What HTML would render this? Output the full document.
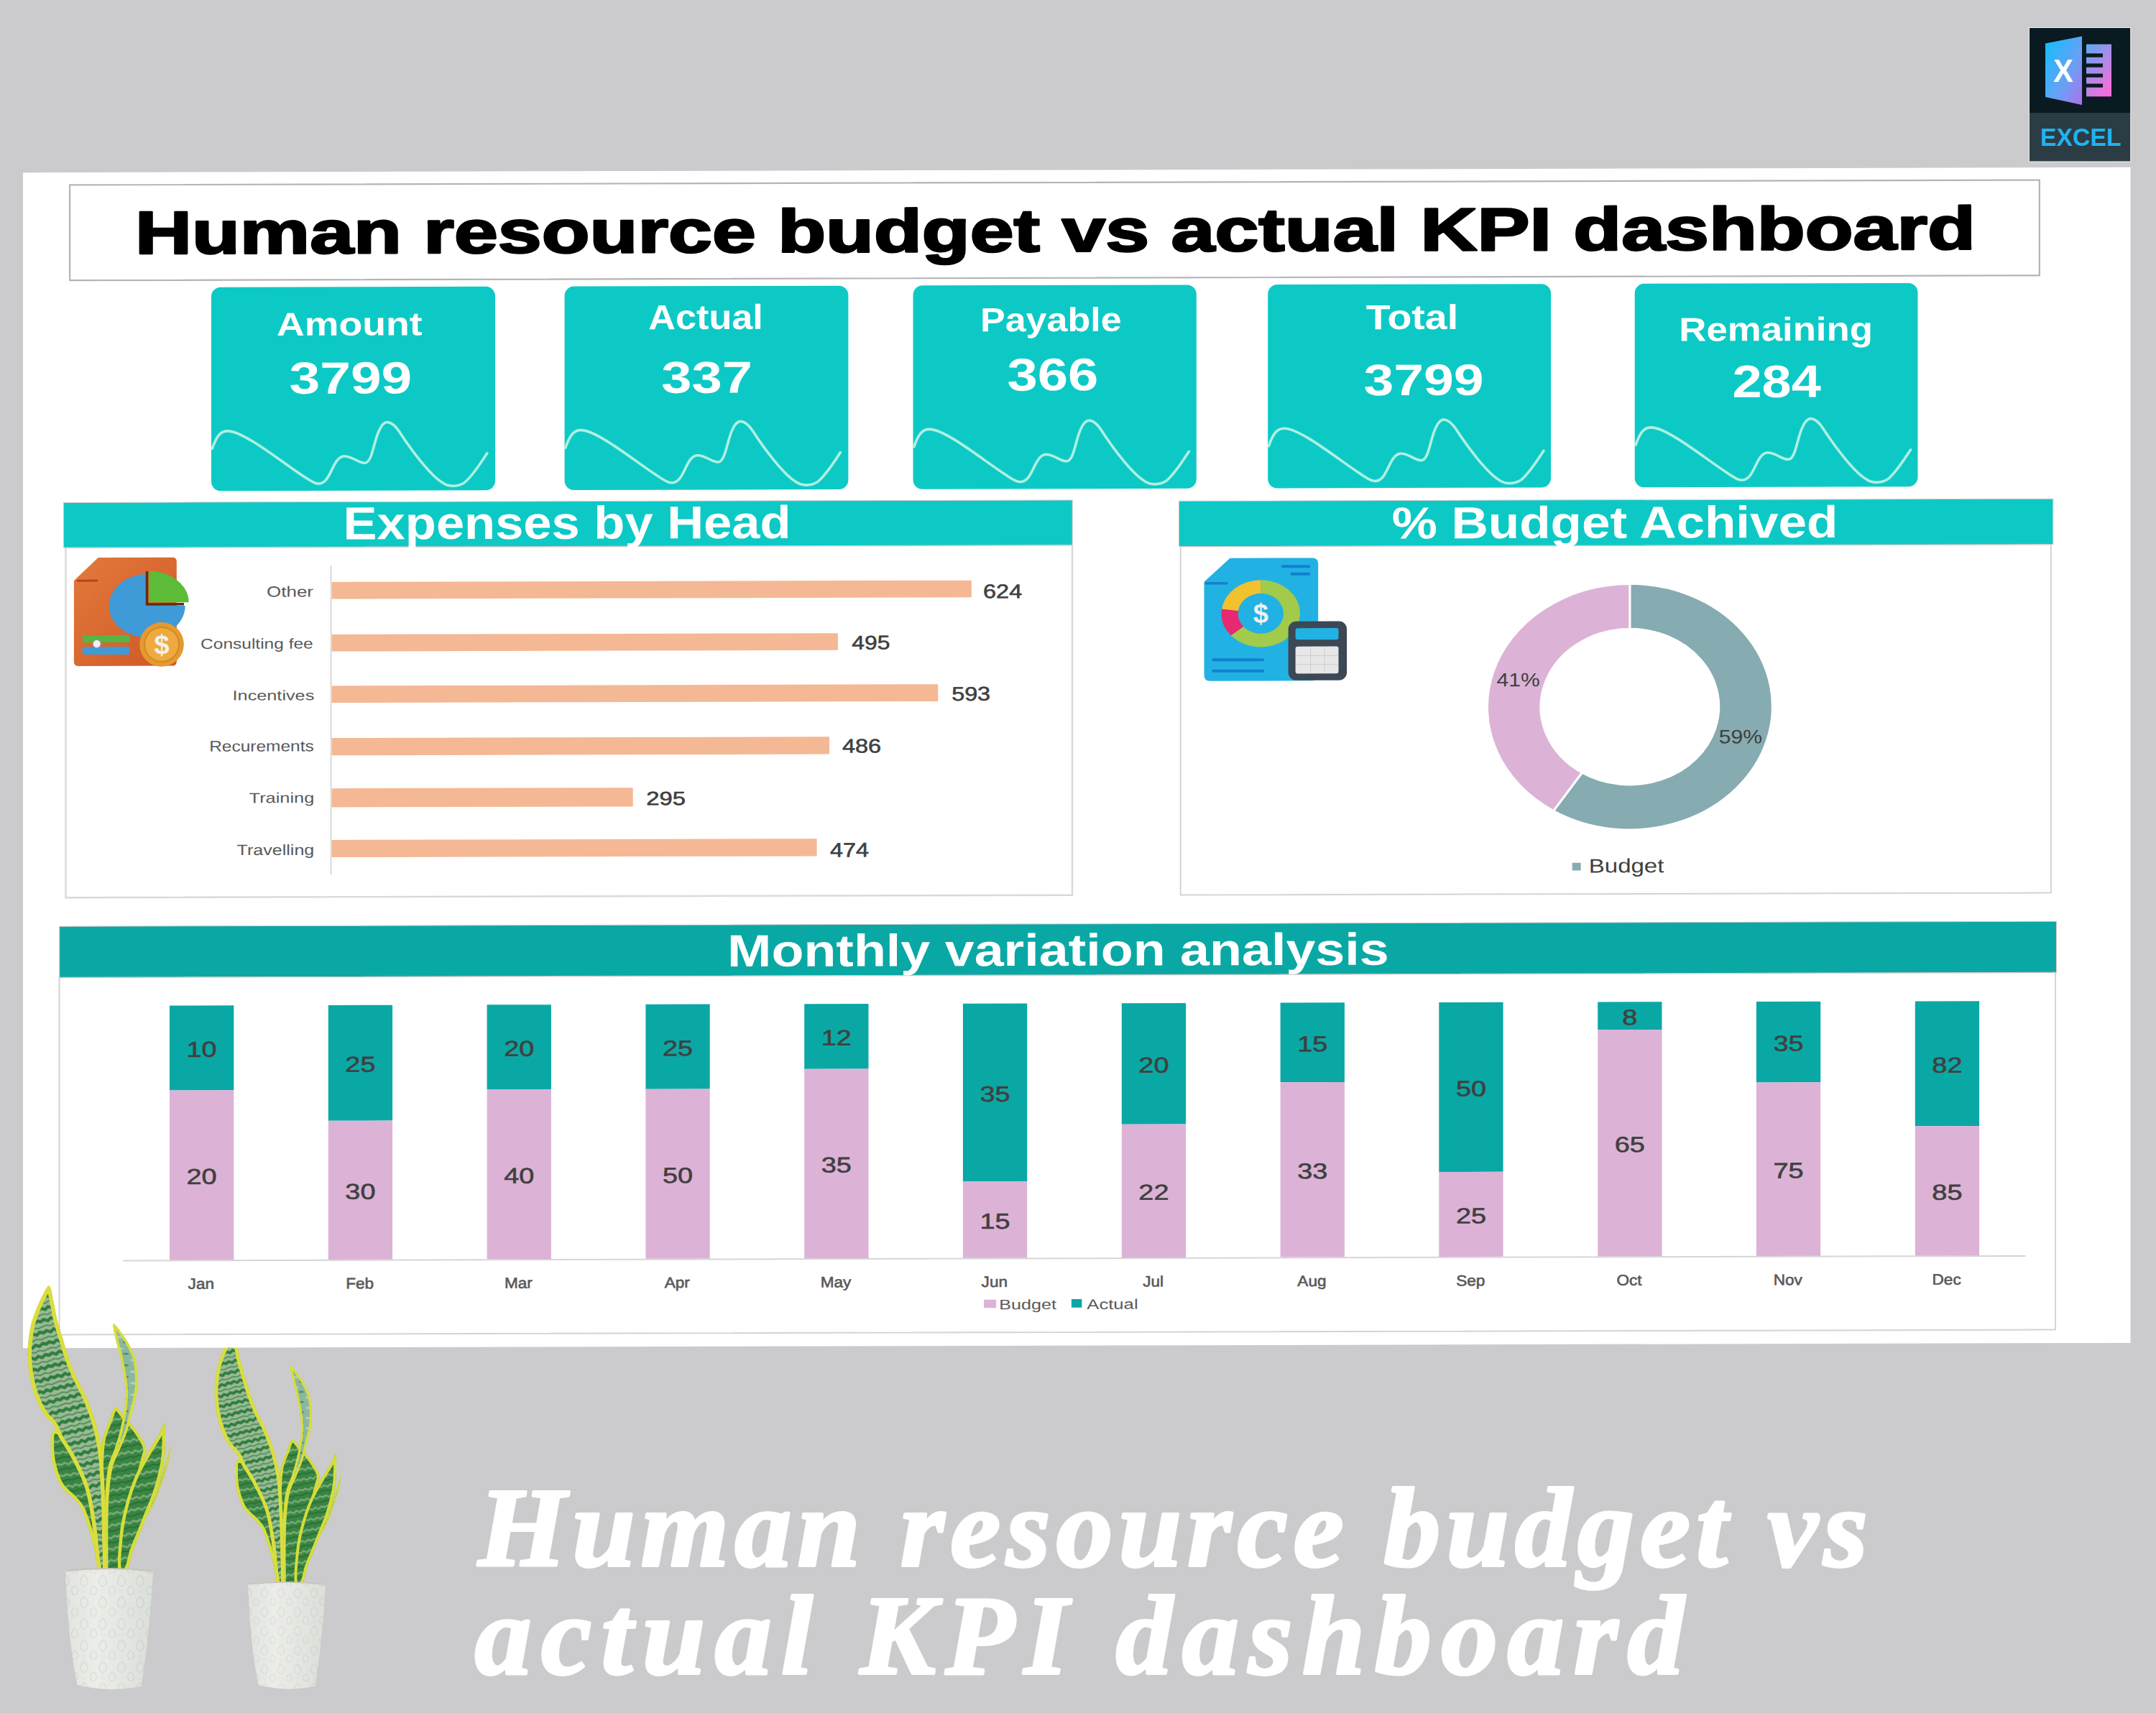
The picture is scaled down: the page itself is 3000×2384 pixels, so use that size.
<!DOCTYPE html>
<html><head><meta charset="utf-8"><title>HR budget vs actual KPI dashboard</title>
<style>html,body{margin:0;padding:0;background:#cbcbce;} body{width:3000px;height:2384px;overflow:hidden;} svg{display:block}</style></head>
<body><svg width="3000" height="2384" viewBox="0 0 3000 2384">
<defs>
<pattern id="mot" patternUnits="userSpaceOnUse" width="30" height="16" patternTransform="rotate(-10)">
<rect width="30" height="16" fill="#3a8543"/>
<path d="M0,5 L5,3 L10,6 L15,3 L20,6 L25,3 L30,5 L30,8 L25,6 L20,9 L15,6 L10,9 L5,6 L0,8 Z" fill="#7aab76"/>
<path d="M0,12 L6,11 L12,13 L18,11 L24,13 L30,12 L30,14 L24,15 L18,13 L12,15 L6,13 L0,14 Z" fill="#266f33"/>
</pattern>
<pattern id="motA" patternUnits="userSpaceOnUse" width="30" height="16" patternTransform="rotate(-14)">
<rect width="30" height="16" fill="#9ab996"/>
<path d="M0,4 L5,2 L10,5 L15,2 L20,5 L25,2 L30,4 L30,9 L25,7 L20,10 L15,7 L10,10 L5,7 L0,9 Z" fill="#2f7d3c"/>
<path d="M0,13 L6,12 L12,14 L18,12 L24,14 L30,13 L30,15 L24,16 L18,14 L12,16 L6,14 L0,15 Z" fill="#4b8f52"/>
</pattern>
<pattern id="mot2" patternUnits="userSpaceOnUse" width="20" height="16">
<rect width="20" height="16" fill="#8ab7a0"/>
<ellipse cx="6" cy="5" rx="5" ry="1.8" fill="#b1cfc0"/><ellipse cx="15" cy="12" rx="4" ry="1.5" fill="#4f9163"/>
</pattern>
<pattern id="potp" patternUnits="userSpaceOnUse" width="26" height="30">
<rect width="26" height="30" fill="#e3e6e0"/>
<path d="M13,2 C20,8 20,14 13,18 C6,14 6,8 13,2 Z M0,17 C6,21 6,27 0,30 M26,17 C20,21 20,27 26,30" fill="none" stroke="#c8cec7" stroke-width="1.8"/>
<circle cx="13" cy="25" r="2.5" fill="none" stroke="#d6dad4" stroke-width="1.2"/>
</pattern>
<linearGradient id="pot" x1="0" y1="0" x2="1" y2="0"><stop offset="0" stop-color="#dfe2dd"/><stop offset="0.35" stop-color="#f3f3ef"/><stop offset="1" stop-color="#d4d9d3"/></linearGradient>
<linearGradient id="door" x1="0" y1="0" x2="1" y2="1"><stop offset="0" stop-color="#0cc0ff"/><stop offset="0.6" stop-color="#6aa0f4"/><stop offset="1" stop-color="#b070ec"/></linearGradient>
<linearGradient id="sheet" x1="0" y1="0" x2="0.6" y2="1"><stop offset="0" stop-color="#5aaaf6"/><stop offset="1" stop-color="#f170dc"/></linearGradient>
</defs>
<rect x="0" y="0" width="3000" height="2384" fill="#cbcbce"/>
<g transform="translate(399,2204) scale(0.885) translate(-152,-2185.5)">
<clipPath id="cl20"><path d="M160.6,1959.1 C164.4,1958.2 169.8,1967.9 174.7,1973.3 C179.6,1978.7 185.4,1984.3 190.1,1991.2 C194.8,1998.1 201.3,2008.0 203.0,2014.4 C204.7,2020.8 202.6,2020.8 200.4,2029.8 C198.2,2038.8 193.9,2053.3 190.1,2068.3 C186.2,2083.3 180.7,2100.4 177.3,2119.7 C173.9,2139.0 175.2,2173.3 169.6,2184.0 C164.0,2194.7 148.6,2199.0 143.9,2184.0 C139.2,2169.0 142.0,2117.6 141.3,2094.0 C140.7,2070.4 139.8,2057.6 140.0,2042.6 C140.2,2027.6 140.7,2014.8 142.6,2004.1 C144.5,1993.4 148.6,1985.9 151.6,1978.4 C154.6,1970.9 156.8,1959.9 160.6,1959.1 Z"/></clipPath>
<path d="M160.6,1959.1 C164.4,1958.2 169.8,1967.9 174.7,1973.3 C179.6,1978.7 185.4,1984.3 190.1,1991.2 C194.8,1998.1 201.3,2008.0 203.0,2014.4 C204.7,2020.8 202.6,2020.8 200.4,2029.8 C198.2,2038.8 193.9,2053.3 190.1,2068.3 C186.2,2083.3 180.7,2100.4 177.3,2119.7 C173.9,2139.0 175.2,2173.3 169.6,2184.0 C164.0,2194.7 148.6,2199.0 143.9,2184.0 C139.2,2169.0 142.0,2117.6 141.3,2094.0 C140.7,2070.4 139.8,2057.6 140.0,2042.6 C140.2,2027.6 140.7,2014.8 142.6,2004.1 C144.5,1993.4 148.6,1985.9 151.6,1978.4 C154.6,1970.9 156.8,1959.9 160.6,1959.1 Z" fill="url(#mot)" stroke="#d6dd3a" stroke-width="8" clip-path="url(#cl20)"/>
<clipPath id="cl21"><path d="M74.5,1991.2 C69.6,1993.2 70.7,2008.4 70.7,2017.0 C70.7,2025.6 72.2,2034.0 74.5,2042.6 C76.8,2051.2 80.1,2061.0 84.8,2068.3 C89.5,2075.6 98.1,2081.2 102.8,2086.3 C107.5,2091.5 110.0,2093.6 113.0,2099.2 C116.0,2104.8 118.2,2112.0 120.8,2119.7 C123.4,2127.4 125.9,2135.1 128.5,2145.4 C131.1,2155.7 134.3,2175.0 136.2,2181.4 C138.1,2187.8 138.4,2183.6 140.0,2184.0 C141.6,2184.4 146.0,2198.0 146.0,2184.0 C146.0,2170.0 143.5,2124.0 140.0,2100.0 C136.5,2076.0 131.7,2055.8 125.0,2040.0 C118.3,2024.2 108.4,2013.1 100.0,2005.0 C91.6,1996.9 79.4,1989.2 74.5,1991.2 Z"/></clipPath>
<path d="M74.5,1991.2 C69.6,1993.2 70.7,2008.4 70.7,2017.0 C70.7,2025.6 72.2,2034.0 74.5,2042.6 C76.8,2051.2 80.1,2061.0 84.8,2068.3 C89.5,2075.6 98.1,2081.2 102.8,2086.3 C107.5,2091.5 110.0,2093.6 113.0,2099.2 C116.0,2104.8 118.2,2112.0 120.8,2119.7 C123.4,2127.4 125.9,2135.1 128.5,2145.4 C131.1,2155.7 134.3,2175.0 136.2,2181.4 C138.1,2187.8 138.4,2183.6 140.0,2184.0 C141.6,2184.4 146.0,2198.0 146.0,2184.0 C146.0,2170.0 143.5,2124.0 140.0,2100.0 C136.5,2076.0 131.7,2055.8 125.0,2040.0 C118.3,2024.2 108.4,2013.1 100.0,2005.0 C91.6,1996.9 79.4,1989.2 74.5,1991.2 Z" fill="url(#mot)" stroke="#d9df3c" stroke-width="9" clip-path="url(#cl21)"/>
<clipPath id="cl22"><path d="M237.7,2013.1 C237.9,2014.4 236.6,2025.3 235.1,2032.4 C233.6,2039.5 231.5,2047.0 228.7,2055.5 C225.9,2064.1 221.8,2075.6 218.4,2083.7 C215.0,2091.8 210.2,2101.3 208.1,2104.3 C205.9,2107.3 204.2,2106.0 205.5,2101.7 C206.8,2097.4 212.4,2087.6 215.8,2078.6 C219.2,2069.6 223.1,2056.8 226.1,2047.8 C229.1,2038.8 231.9,2030.4 233.8,2024.6 C235.7,2018.8 237.5,2011.8 237.7,2013.1 Z"/></clipPath>
<path d="M237.7,2013.1 C237.9,2014.4 236.6,2025.3 235.1,2032.4 C233.6,2039.5 231.5,2047.0 228.7,2055.5 C225.9,2064.1 221.8,2075.6 218.4,2083.7 C215.0,2091.8 210.2,2101.3 208.1,2104.3 C205.9,2107.3 204.2,2106.0 205.5,2101.7 C206.8,2097.4 212.4,2087.6 215.8,2078.6 C219.2,2069.6 223.1,2056.8 226.1,2047.8 C229.1,2038.8 231.9,2030.4 233.8,2024.6 C235.7,2018.8 237.5,2011.8 237.7,2013.1 Z" fill="url(#mot2)" stroke="#cfd84a" stroke-width="4" clip-path="url(#cl22)"/>
<clipPath id="cl23"><path d="M228.7,1981.0 C230.2,1982.3 230.0,1996.0 230.0,2004.1 C230.0,2012.2 229.8,2021.2 228.7,2029.8 C227.6,2038.4 225.7,2046.9 223.5,2055.5 C221.3,2064.1 218.8,2072.6 215.8,2081.2 C212.8,2089.8 208.9,2098.3 205.5,2106.9 C202.1,2115.5 198.7,2124.0 195.3,2132.6 C191.9,2141.2 188.0,2149.7 185.0,2158.3 C182.0,2166.9 180.7,2179.7 177.3,2184.0 C173.9,2188.3 166.1,2192.6 164.4,2184.0 C162.7,2175.4 165.3,2147.6 167.0,2132.6 C168.7,2117.6 171.3,2106.8 174.7,2094.0 C178.1,2081.2 182.5,2067.5 187.6,2055.5 C192.7,2043.5 199.9,2031.9 205.5,2022.1 C211.1,2012.2 217.1,2003.2 221.0,1996.4 C224.9,1989.6 227.2,1979.7 228.7,1981.0 Z"/></clipPath>
<path d="M228.7,1981.0 C230.2,1982.3 230.0,1996.0 230.0,2004.1 C230.0,2012.2 229.8,2021.2 228.7,2029.8 C227.6,2038.4 225.7,2046.9 223.5,2055.5 C221.3,2064.1 218.8,2072.6 215.8,2081.2 C212.8,2089.8 208.9,2098.3 205.5,2106.9 C202.1,2115.5 198.7,2124.0 195.3,2132.6 C191.9,2141.2 188.0,2149.7 185.0,2158.3 C182.0,2166.9 180.7,2179.7 177.3,2184.0 C173.9,2188.3 166.1,2192.6 164.4,2184.0 C162.7,2175.4 165.3,2147.6 167.0,2132.6 C168.7,2117.6 171.3,2106.8 174.7,2094.0 C178.1,2081.2 182.5,2067.5 187.6,2055.5 C192.7,2043.5 199.9,2031.9 205.5,2022.1 C211.1,2012.2 217.1,2003.2 221.0,1996.4 C224.9,1989.6 227.2,1979.7 228.7,1981.0 Z" fill="url(#mot)" stroke="#d6dd3a" stroke-width="9" clip-path="url(#cl23)"/>
<clipPath id="cl24"><path d="M158.0,1842.2 C160.3,1842.2 169.8,1855.1 174.7,1862.8 C179.6,1870.5 184.8,1879.9 187.6,1888.5 C190.4,1897.1 191.0,1905.6 191.4,1914.2 C191.8,1922.8 191.4,1931.4 190.1,1939.9 C188.8,1948.5 185.8,1957.0 183.7,1965.5 C181.6,1974.0 180.1,1982.6 177.3,1991.2 C174.5,1999.8 170.4,2008.4 167.0,2017.0 C163.6,2025.6 159.3,2031.9 156.7,2042.6 C154.1,2053.3 152.7,2066.2 151.6,2081.2 C150.5,2096.2 150.5,2115.5 150.3,2132.6 C150.1,2149.7 150.9,2175.4 150.3,2184.0 C149.7,2192.6 147.2,2192.6 146.5,2184.0 C145.8,2175.4 145.9,2149.7 145.9,2132.6 C145.9,2115.5 145.8,2096.2 146.5,2081.2 C147.2,2066.2 148.2,2053.3 150.3,2042.6 C152.4,2031.9 156.5,2025.6 159.3,2017.0 C162.1,2008.4 164.9,1999.8 167.0,1991.2 C169.1,1982.6 170.8,1974.0 172.1,1965.5 C173.4,1957.0 174.7,1948.5 174.7,1939.9 C174.7,1931.4 173.4,1922.8 172.1,1914.2 C170.8,1905.6 168.9,1897.1 167.0,1888.5 C165.1,1879.9 162.1,1870.5 160.6,1862.8 C159.1,1855.1 155.7,1842.2 158.0,1842.2 Z"/></clipPath>
<path d="M158.0,1842.2 C160.3,1842.2 169.8,1855.1 174.7,1862.8 C179.6,1870.5 184.8,1879.9 187.6,1888.5 C190.4,1897.1 191.0,1905.6 191.4,1914.2 C191.8,1922.8 191.4,1931.4 190.1,1939.9 C188.8,1948.5 185.8,1957.0 183.7,1965.5 C181.6,1974.0 180.1,1982.6 177.3,1991.2 C174.5,1999.8 170.4,2008.4 167.0,2017.0 C163.6,2025.6 159.3,2031.9 156.7,2042.6 C154.1,2053.3 152.7,2066.2 151.6,2081.2 C150.5,2096.2 150.5,2115.5 150.3,2132.6 C150.1,2149.7 150.9,2175.4 150.3,2184.0 C149.7,2192.6 147.2,2192.6 146.5,2184.0 C145.8,2175.4 145.9,2149.7 145.9,2132.6 C145.9,2115.5 145.8,2096.2 146.5,2081.2 C147.2,2066.2 148.2,2053.3 150.3,2042.6 C152.4,2031.9 156.5,2025.6 159.3,2017.0 C162.1,2008.4 164.9,1999.8 167.0,1991.2 C169.1,1982.6 170.8,1974.0 172.1,1965.5 C173.4,1957.0 174.7,1948.5 174.7,1939.9 C174.7,1931.4 173.4,1922.8 172.1,1914.2 C170.8,1905.6 168.9,1897.1 167.0,1888.5 C165.1,1879.9 162.1,1870.5 160.6,1862.8 C159.1,1855.1 155.7,1842.2 158.0,1842.2 Z" fill="url(#mot2)" stroke="#d8de3a" stroke-width="7" clip-path="url(#cl24)"/>
<clipPath id="cl25"><path d="M136.0,2184.0 C132.7,2173.3 131.0,2139.0 128.0,2120.0 C125.0,2101.0 122.7,2085.0 118.0,2070.0 C113.3,2055.0 106.0,2041.7 100.0,2030.0 C94.0,2018.3 86.2,2007.8 82.0,2000.0 C77.8,1992.2 78.3,1989.2 74.5,1983.5 C70.7,1977.8 63.6,1972.8 59.1,1965.5 C54.6,1958.2 50.5,1948.5 47.5,1939.9 C44.5,1931.4 42.6,1922.8 41.1,1914.2 C39.6,1905.6 38.7,1897.1 38.5,1888.5 C38.3,1879.9 38.7,1871.4 39.8,1862.8 C40.9,1854.2 42.4,1845.7 45.0,1837.1 C47.6,1828.5 51.4,1819.3 55.2,1811.4 C59.1,1803.5 64.9,1789.5 68.1,1789.5 C71.3,1789.5 72.6,1803.5 74.5,1811.4 C76.4,1819.3 77.5,1828.5 79.7,1837.1 C81.9,1845.7 84.8,1854.2 87.4,1862.8 C90.0,1871.4 92.1,1879.9 95.1,1888.5 C98.1,1897.1 101.4,1905.6 105.3,1914.2 C109.2,1922.8 114.3,1931.4 118.2,1939.9 C122.1,1948.5 125.5,1957.0 128.5,1965.5 C131.5,1974.0 134.1,1982.6 136.2,1991.2 C138.3,1999.8 140.0,2008.4 141.3,2017.0 C142.6,2025.6 143.0,2029.8 143.9,2042.6 C144.8,2055.4 145.9,2076.9 146.5,2094.0 C147.1,2111.1 147.5,2130.4 147.7,2145.4 C147.9,2160.4 149.6,2177.6 147.7,2184.0 C145.8,2190.4 139.3,2194.7 136.0,2184.0 Z"/></clipPath>
<path d="M136.0,2184.0 C132.7,2173.3 131.0,2139.0 128.0,2120.0 C125.0,2101.0 122.7,2085.0 118.0,2070.0 C113.3,2055.0 106.0,2041.7 100.0,2030.0 C94.0,2018.3 86.2,2007.8 82.0,2000.0 C77.8,1992.2 78.3,1989.2 74.5,1983.5 C70.7,1977.8 63.6,1972.8 59.1,1965.5 C54.6,1958.2 50.5,1948.5 47.5,1939.9 C44.5,1931.4 42.6,1922.8 41.1,1914.2 C39.6,1905.6 38.7,1897.1 38.5,1888.5 C38.3,1879.9 38.7,1871.4 39.8,1862.8 C40.9,1854.2 42.4,1845.7 45.0,1837.1 C47.6,1828.5 51.4,1819.3 55.2,1811.4 C59.1,1803.5 64.9,1789.5 68.1,1789.5 C71.3,1789.5 72.6,1803.5 74.5,1811.4 C76.4,1819.3 77.5,1828.5 79.7,1837.1 C81.9,1845.7 84.8,1854.2 87.4,1862.8 C90.0,1871.4 92.1,1879.9 95.1,1888.5 C98.1,1897.1 101.4,1905.6 105.3,1914.2 C109.2,1922.8 114.3,1931.4 118.2,1939.9 C122.1,1948.5 125.5,1957.0 128.5,1965.5 C131.5,1974.0 134.1,1982.6 136.2,1991.2 C138.3,1999.8 140.0,2008.4 141.3,2017.0 C142.6,2025.6 143.0,2029.8 143.9,2042.6 C144.8,2055.4 145.9,2076.9 146.5,2094.0 C147.1,2111.1 147.5,2130.4 147.7,2145.4 C147.9,2160.4 149.6,2177.6 147.7,2184.0 C145.8,2190.4 139.3,2194.7 136.0,2184.0 Z" fill="url(#motA)" stroke="#dade3c" stroke-width="11" clip-path="url(#cl25)"/>
<path d="M91.2,2185.1 C93,2240 98,2300 107.7,2344.8 Q150,2356 196.4,2346.8 C204,2300 210,2240 212.9,2186 Q152,2181 91.2,2185.1 Z" fill="url(#potp)"/>
<path d="M91.2,2185.1 C93,2240 98,2300 107.7,2344.8 Q150,2356 196.4,2346.8 C204,2300 210,2240 212.9,2186 Q152,2181 91.2,2185.1 Z" fill="url(#pot)" opacity="0.55"/>
<path d="M92,2186 Q152,2180 212,2186.5" fill="none" stroke="#c9c3b5" stroke-width="2"/>
</g>
<g transform="matrix(1,-0.0025,0,1,0,3.7450)">
<rect x="32" y="236.5" width="2932.5" height="1636.1" fill="#ffffff"/>
<rect x="97.1" y="253.9" width="2740.8" height="132.8" fill="#fff" stroke="#b4b4b4" stroke-width="2.2"/>
<rect x="294" y="396.8" width="395.0" height="283.4" rx="13" fill="#0dc9c6"/>
<path d="M1.2,224.6 C8,205 14,200 22.9,200.1 C45,200 100,245 125.9,261.7 C140,271 150,280 160,268 C168,258 172,238 183.4,235.7 C195,234 205,246 214,245 C224,244 226,215 233.5,200 C237,192 241,188 245.5,188.4 C252,189 258,196 262,202 C280,230 305,262 320.7,272 C330,279 342,279 352.2,272.8 C365,262 375,245 383.8,232" transform="translate(294,396.8)" fill="none" stroke="#b0f0e0" stroke-width="3.6" stroke-linecap="round"/>
<rect x="785.6" y="396.8" width="394.8" height="283.4" rx="13" fill="#0dc9c6"/>
<path d="M1.2,224.6 C8,205 14,200 22.9,200.1 C45,200 100,245 125.9,261.7 C140,271 150,280 160,268 C168,258 172,238 183.4,235.7 C195,234 205,246 214,245 C224,244 226,215 233.5,200 C237,192 241,188 245.5,188.4 C252,189 258,196 262,202 C280,230 305,262 320.7,272 C330,279 342,279 352.2,272.8 C365,262 375,245 383.8,232" transform="translate(785.6,396.8)" fill="none" stroke="#b0f0e0" stroke-width="3.6" stroke-linecap="round"/>
<rect x="1270.5" y="396.8" width="394.3" height="283.4" rx="13" fill="#0dc9c6"/>
<path d="M1.2,224.6 C8,205 14,200 22.9,200.1 C45,200 100,245 125.9,261.7 C140,271 150,280 160,268 C168,258 172,238 183.4,235.7 C195,234 205,246 214,245 C224,244 226,215 233.5,200 C237,192 241,188 245.5,188.4 C252,189 258,196 262,202 C280,230 305,262 320.7,272 C330,279 342,279 352.2,272.8 C365,262 375,245 383.8,232" transform="translate(1270.5,396.8)" fill="none" stroke="#b0f0e0" stroke-width="3.6" stroke-linecap="round"/>
<rect x="1764.2" y="396.8" width="393.8" height="283.4" rx="13" fill="#0dc9c6"/>
<path d="M1.2,224.6 C8,205 14,200 22.9,200.1 C45,200 100,245 125.9,261.7 C140,271 150,280 160,268 C168,258 172,238 183.4,235.7 C195,234 205,246 214,245 C224,244 226,215 233.5,200 C237,192 241,188 245.5,188.4 C252,189 258,196 262,202 C280,230 305,262 320.7,272 C330,279 342,279 352.2,272.8 C365,262 375,245 383.8,232" transform="translate(1764.2,396.8)" fill="none" stroke="#b0f0e0" stroke-width="3.6" stroke-linecap="round"/>
<rect x="2274.7" y="396.8" width="393.8" height="283.4" rx="13" fill="#0dc9c6"/>
<path d="M1.2,224.6 C8,205 14,200 22.9,200.1 C45,200 100,245 125.9,261.7 C140,271 150,280 160,268 C168,258 172,238 183.4,235.7 C195,234 205,246 214,245 C224,244 226,215 233.5,200 C237,192 241,188 245.5,188.4 C252,189 258,196 262,202 C280,230 305,262 320.7,272 C330,279 342,279 352.2,272.8 C365,262 375,245 383.8,232" transform="translate(2274.7,396.8)" fill="none" stroke="#b0f0e0" stroke-width="3.6" stroke-linecap="round"/>
<rect x="91.5" y="758.6" width="1400.5" height="487.1" fill="#fff" stroke="#d9d9d9" stroke-width="2.4"/>
<rect x="88.4" y="695.9" width="1403.8" height="62.7" fill="#0dc9c6" stroke="#d9c9c9" stroke-width="1"/>
<line x1="460.6" y1="784.4" x2="460.6" y2="1215" stroke="#d0d0d0" stroke-width="1.6"/>
<rect x="461.7" y="807.3" width="890.1" height="23.7" fill="#f4b894"/>
<rect x="461.7" y="880.3" width="704.2" height="23.7" fill="#f4b894"/>
<rect x="461.7" y="951.8" width="843.5" height="23.7" fill="#f4b894"/>
<rect x="461.7" y="1024.5" width="692.3" height="24.2" fill="#f4b894"/>
<rect x="461.7" y="1094.6" width="419.0" height="26.3" fill="#f4b894"/>
<rect x="461.7" y="1166.3" width="674.9" height="24.2" fill="#f4b894"/>
<rect x="1642.7" y="760.9" width="1211.2" height="485" fill="#fff" stroke="#d4d4d4" stroke-width="2"/>
<rect x="1640.4" y="697.6" width="1216.4" height="63.3" fill="#0dc9c6" stroke="#d9c9c9" stroke-width="1"/>
<path d="M2267.8,814.3 A198.4,171.3 0 1 1 2161.5,1130.2 L2201.4,1077.0 A123.9,108.3 0 1 0 2267.8,877.3 Z" fill="#86abb1" stroke="#fff" stroke-width="3" stroke-linejoin="bevel"/>
<path d="M2161.5,1130.2 A198.4,171.3 0 0 1 2267.8,814.3 L2267.8,877.3 A123.9,108.3 0 0 0 2201.4,1077.0 Z" fill="#dcb3d6" stroke="#fff" stroke-width="3" stroke-linejoin="bevel"/>
<rect x="2187.7" y="1202.4" width="11.9" height="10.8" fill="#86abb1"/>
<rect x="82.5" y="1356.7" width="2777.5" height="497.3" fill="#fff" stroke="#d4d4d4" stroke-width="2"/>
<rect x="82.7" y="1285.7" width="2778.8" height="71" fill="#0aa8a5" stroke="#d9c9c9" stroke-width="1"/>
<line x1="171" y1="1751.2" x2="2818.5" y2="1751.2" stroke="#d6d6d6" stroke-width="2"/>
<rect x="236.0" y="1396.3" width="89.3" height="118.0" fill="#0aa8a5"/>
<rect x="236.0" y="1514.3" width="89.3" height="236.0" fill="#dcb3d6"/>
<rect x="456.8" y="1396.3" width="89.3" height="160.9" fill="#0aa8a5"/>
<rect x="456.8" y="1557.2" width="89.3" height="193.1" fill="#dcb3d6"/>
<rect x="677.6" y="1396.3" width="89.3" height="118.0" fill="#0aa8a5"/>
<rect x="677.6" y="1514.3" width="89.3" height="236.0" fill="#dcb3d6"/>
<rect x="898.4" y="1396.3" width="89.3" height="118.0" fill="#0aa8a5"/>
<rect x="898.4" y="1514.3" width="89.3" height="236.0" fill="#dcb3d6"/>
<rect x="1119.2" y="1396.3" width="89.3" height="90.4" fill="#0aa8a5"/>
<rect x="1119.2" y="1486.7" width="89.3" height="263.6" fill="#dcb3d6"/>
<rect x="1339.9" y="1396.3" width="89.3" height="247.8" fill="#0aa8a5"/>
<rect x="1339.9" y="1644.1" width="89.3" height="106.2" fill="#dcb3d6"/>
<rect x="1560.8" y="1396.3" width="89.3" height="168.6" fill="#0aa8a5"/>
<rect x="1560.8" y="1564.9" width="89.3" height="185.4" fill="#dcb3d6"/>
<rect x="1781.6" y="1396.3" width="89.3" height="110.6" fill="#0aa8a5"/>
<rect x="1781.6" y="1506.9" width="89.3" height="243.4" fill="#dcb3d6"/>
<rect x="2002.3" y="1396.3" width="89.3" height="236.0" fill="#0aa8a5"/>
<rect x="2002.3" y="1632.3" width="89.3" height="118.0" fill="#dcb3d6"/>
<rect x="2223.2" y="1396.3" width="89.3" height="38.8" fill="#0aa8a5"/>
<rect x="2223.2" y="1435.1" width="89.3" height="315.2" fill="#dcb3d6"/>
<rect x="2443.9" y="1396.3" width="89.3" height="112.6" fill="#0aa8a5"/>
<rect x="2443.9" y="1508.9" width="89.3" height="241.4" fill="#dcb3d6"/>
<rect x="2664.8" y="1396.3" width="89.3" height="173.8" fill="#0aa8a5"/>
<rect x="2664.8" y="1570.1" width="89.3" height="180.2" fill="#dcb3d6"/>
<text transform="translate(280.6,1467.8) scale(1.25,1)" text-anchor="middle" font-family="Liberation Sans, sans-serif" font-weight="normal" font-size="30.3" fill="#404040" stroke="#404040" stroke-width="0.6">10</text>
<text transform="translate(280.6,1644.8) scale(1.25,1)" text-anchor="middle" font-family="Liberation Sans, sans-serif" font-weight="normal" font-size="30.3" fill="#404040" stroke="#404040" stroke-width="0.6">20</text>
<text transform="translate(279.8,1790.7) scale(1.08,1)" text-anchor="middle" font-family="Liberation Sans, sans-serif" font-weight="normal" font-size="20.9" fill="#595959" stroke="#595959" stroke-width="0.6">Jan</text>
<text transform="translate(501.4,1489.2) scale(1.25,1)" text-anchor="middle" font-family="Liberation Sans, sans-serif" font-weight="normal" font-size="30.3" fill="#404040" stroke="#404040" stroke-width="0.6">25</text>
<text transform="translate(501.4,1666.2) scale(1.25,1)" text-anchor="middle" font-family="Liberation Sans, sans-serif" font-weight="normal" font-size="30.3" fill="#404040" stroke="#404040" stroke-width="0.6">30</text>
<text transform="translate(500.6,1790.7) scale(1.08,1)" text-anchor="middle" font-family="Liberation Sans, sans-serif" font-weight="normal" font-size="20.9" fill="#595959" stroke="#595959" stroke-width="0.6">Feb</text>
<text transform="translate(722.2,1467.8) scale(1.25,1)" text-anchor="middle" font-family="Liberation Sans, sans-serif" font-weight="normal" font-size="30.3" fill="#404040" stroke="#404040" stroke-width="0.6">20</text>
<text transform="translate(722.2,1644.8) scale(1.25,1)" text-anchor="middle" font-family="Liberation Sans, sans-serif" font-weight="normal" font-size="30.3" fill="#404040" stroke="#404040" stroke-width="0.6">40</text>
<text transform="translate(721.4,1790.7) scale(1.08,1)" text-anchor="middle" font-family="Liberation Sans, sans-serif" font-weight="normal" font-size="20.9" fill="#595959" stroke="#595959" stroke-width="0.6">Mar</text>
<text transform="translate(943.0,1467.8) scale(1.25,1)" text-anchor="middle" font-family="Liberation Sans, sans-serif" font-weight="normal" font-size="30.3" fill="#404040" stroke="#404040" stroke-width="0.6">25</text>
<text transform="translate(943.0,1644.8) scale(1.25,1)" text-anchor="middle" font-family="Liberation Sans, sans-serif" font-weight="normal" font-size="30.3" fill="#404040" stroke="#404040" stroke-width="0.6">50</text>
<text transform="translate(942.2,1790.7) scale(1.08,1)" text-anchor="middle" font-family="Liberation Sans, sans-serif" font-weight="normal" font-size="20.9" fill="#595959" stroke="#595959" stroke-width="0.6">Apr</text>
<text transform="translate(1163.8,1453.9) scale(1.25,1)" text-anchor="middle" font-family="Liberation Sans, sans-serif" font-weight="normal" font-size="30.3" fill="#404040" stroke="#404040" stroke-width="0.6">12</text>
<text transform="translate(1163.8,1630.9) scale(1.25,1)" text-anchor="middle" font-family="Liberation Sans, sans-serif" font-weight="normal" font-size="30.3" fill="#404040" stroke="#404040" stroke-width="0.6">35</text>
<text transform="translate(1163.0,1790.7) scale(1.08,1)" text-anchor="middle" font-family="Liberation Sans, sans-serif" font-weight="normal" font-size="20.9" fill="#595959" stroke="#595959" stroke-width="0.6">May</text>
<text transform="translate(1384.6,1532.7) scale(1.25,1)" text-anchor="middle" font-family="Liberation Sans, sans-serif" font-weight="normal" font-size="30.3" fill="#404040" stroke="#404040" stroke-width="0.6">35</text>
<text transform="translate(1384.6,1709.7) scale(1.25,1)" text-anchor="middle" font-family="Liberation Sans, sans-serif" font-weight="normal" font-size="30.3" fill="#404040" stroke="#404040" stroke-width="0.6">15</text>
<text transform="translate(1383.8,1790.7) scale(1.08,1)" text-anchor="middle" font-family="Liberation Sans, sans-serif" font-weight="normal" font-size="20.9" fill="#595959" stroke="#595959" stroke-width="0.6">Jun</text>
<text transform="translate(1605.4,1493.0) scale(1.25,1)" text-anchor="middle" font-family="Liberation Sans, sans-serif" font-weight="normal" font-size="30.3" fill="#404040" stroke="#404040" stroke-width="0.6">20</text>
<text transform="translate(1605.4,1670.0) scale(1.25,1)" text-anchor="middle" font-family="Liberation Sans, sans-serif" font-weight="normal" font-size="30.3" fill="#404040" stroke="#404040" stroke-width="0.6">22</text>
<text transform="translate(1604.6,1790.7) scale(1.08,1)" text-anchor="middle" font-family="Liberation Sans, sans-serif" font-weight="normal" font-size="20.9" fill="#595959" stroke="#595959" stroke-width="0.6">Jul</text>
<text transform="translate(1826.2,1464.1) scale(1.25,1)" text-anchor="middle" font-family="Liberation Sans, sans-serif" font-weight="normal" font-size="30.3" fill="#404040" stroke="#404040" stroke-width="0.6">15</text>
<text transform="translate(1826.2,1641.1) scale(1.25,1)" text-anchor="middle" font-family="Liberation Sans, sans-serif" font-weight="normal" font-size="30.3" fill="#404040" stroke="#404040" stroke-width="0.6">33</text>
<text transform="translate(1825.4,1790.7) scale(1.08,1)" text-anchor="middle" font-family="Liberation Sans, sans-serif" font-weight="normal" font-size="20.9" fill="#595959" stroke="#595959" stroke-width="0.6">Aug</text>
<text transform="translate(2047.0,1526.8) scale(1.25,1)" text-anchor="middle" font-family="Liberation Sans, sans-serif" font-weight="normal" font-size="30.3" fill="#404040" stroke="#404040" stroke-width="0.6">50</text>
<text transform="translate(2047.0,1703.8) scale(1.25,1)" text-anchor="middle" font-family="Liberation Sans, sans-serif" font-weight="normal" font-size="30.3" fill="#404040" stroke="#404040" stroke-width="0.6">25</text>
<text transform="translate(2046.2,1790.7) scale(1.08,1)" text-anchor="middle" font-family="Liberation Sans, sans-serif" font-weight="normal" font-size="20.9" fill="#595959" stroke="#595959" stroke-width="0.6">Sep</text>
<text transform="translate(2267.8,1428.1) scale(1.25,1)" text-anchor="middle" font-family="Liberation Sans, sans-serif" font-weight="normal" font-size="30.3" fill="#404040" stroke="#404040" stroke-width="0.6">8</text>
<text transform="translate(2267.8,1605.1) scale(1.25,1)" text-anchor="middle" font-family="Liberation Sans, sans-serif" font-weight="normal" font-size="30.3" fill="#404040" stroke="#404040" stroke-width="0.6">65</text>
<text transform="translate(2267.0,1790.7) scale(1.08,1)" text-anchor="middle" font-family="Liberation Sans, sans-serif" font-weight="normal" font-size="20.9" fill="#595959" stroke="#595959" stroke-width="0.6">Oct</text>
<text transform="translate(2488.6,1465.1) scale(1.25,1)" text-anchor="middle" font-family="Liberation Sans, sans-serif" font-weight="normal" font-size="30.3" fill="#404040" stroke="#404040" stroke-width="0.6">35</text>
<text transform="translate(2488.6,1642.1) scale(1.25,1)" text-anchor="middle" font-family="Liberation Sans, sans-serif" font-weight="normal" font-size="30.3" fill="#404040" stroke="#404040" stroke-width="0.6">75</text>
<text transform="translate(2487.8,1790.7) scale(1.08,1)" text-anchor="middle" font-family="Liberation Sans, sans-serif" font-weight="normal" font-size="20.9" fill="#595959" stroke="#595959" stroke-width="0.6">Nov</text>
<text transform="translate(2709.4,1495.7) scale(1.25,1)" text-anchor="middle" font-family="Liberation Sans, sans-serif" font-weight="normal" font-size="30.3" fill="#404040" stroke="#404040" stroke-width="0.6">82</text>
<text transform="translate(2709.4,1672.7) scale(1.25,1)" text-anchor="middle" font-family="Liberation Sans, sans-serif" font-weight="normal" font-size="30.3" fill="#404040" stroke="#404040" stroke-width="0.6">85</text>
<text transform="translate(2708.6,1790.7) scale(1.08,1)" text-anchor="middle" font-family="Liberation Sans, sans-serif" font-weight="normal" font-size="20.9" fill="#595959" stroke="#595959" stroke-width="0.6">Dec</text>
<rect x="1369.1" y="1808.5" width="17.1" height="11.5" fill="#dcb3d6"/>
<rect x="1490.9" y="1807.9" width="14.5" height="11.9" fill="#0aa8a5"/>
<g transform="translate(95,761.71)">
<defs><linearGradient id="og" x1="0" y1="0" x2="1" y2="1"><stop offset="0" stop-color="#e37a3c"/><stop offset="1" stop-color="#cf5726"/></linearGradient></defs>
<path d="M7.9,42.7 L41.7,10.9 L145,10.9 Q150.8,10.9 150.8,16.7 L150.8,155.9 Q150.8,161.7 145,161.7 L13.7,161.7 Q7.9,161.7 7.9,155.9 Z" fill="url(#og)"/>
<path d="M13,43 L40,43" stroke="#b8461c" stroke-width="3" stroke-linecap="round"/>
<path d="M109.7,78.1 L109.7,34.1 A53,44 0 1 0 162.7,78.1 Z" fill="#3e9bd7"/>
<path d="M109.5,30 L109.5,76 L161,76" fill="none" stroke="#6b2a14" stroke-width="3.5"/>
<path d="M112.1,73.4 L112.1,29.8 A55.6,43.6 0 0 1 167.7,73.4 Z" fill="#5cbc38"/>
<rect x="19.8" y="119" width="65.5" height="10" rx="2" fill="#57b544"/>
<rect x="19.8" y="135" width="65.5" height="10.9" rx="2" fill="#3e9bd7"/>
<circle cx="39.7" cy="131" r="5.5" fill="#f2f2f2" stroke="#999" stroke-width="1"/>
<circle cx="130" cy="132" r="30.8" fill="#e59a2f"/>
<circle cx="130" cy="132" r="24" fill="#eeaa3e" stroke="#d08a22" stroke-width="2"/>
<text x="130" y="145.5" text-anchor="middle" font-family="Liberation Sans, sans-serif" font-weight="bold" font-size="38" fill="#f4f1ee">$</text>
</g>
<g transform="translate(1665,765.69)">
<path d="M10.5,44.4 L46.6,11.6 L161,11.6 Q169.2,11.6 169.2,19.8 L169.2,174.3 Q169.2,182.5 161,182.5 L18.7,182.5 Q10.5,182.5 10.5,174.3 Z" fill="#22b1e3"/>
<path d="M13,46.6 L42,46.6" stroke="#1580cf" stroke-width="3.5" stroke-linecap="round"/>
<g stroke="#1380cf" stroke-width="4" stroke-linecap="round"><path d="M119.8,23.3 L156.4,23.3 M132.6,33.8 L156.4,33.8 M23.3,153.1 L92.1,153.1 M23.3,168.6 L92.1,168.6"/></g>
<path d="M89.3,42.2 A54.6,46.6 0 1 1 47.8,119.1 L65.3,107.0 A31.6,28 0 1 0 89.3,60.8 Z" fill="#a2cb4b"/>
<path d="M47.8,119.1 A54.6,46.6 0 0 1 35.2,82.3 L58.0,84.9 A31.6,28 0 0 0 65.3,107.0 Z" fill="#e8286f"/>
<path d="M35.2,82.3 A54.6,46.6 0 0 1 89.3,42.2 L89.3,60.8 A31.6,28 0 0 0 58.0,84.9 Z" fill="#f2c12e"/>
<text x="89.3" y="102" text-anchor="middle" font-family="Liberation Sans, sans-serif" font-weight="bold" font-size="38" fill="#f1f1f1">$</text>
<rect x="127.6" y="99.8" width="81.5" height="82.1" rx="11" fill="#3c4853"/>
<rect x="137.6" y="109.3" width="59.9" height="16.1" rx="3" fill="#22b1e3"/>
<rect x="137.6" y="134.8" width="59.9" height="37.7" rx="3" fill="#e7e7e7"/>
<path d="M158.6,134.8 V172.5 M178.1,134.8 V172.5 M137.6,147.6 H197.5 M137.6,159.8 H197.5" stroke="#cdcdcd" stroke-width="1"/>
</g>
<text x="187.9" y="349.8" font-family="Liberation Sans, sans-serif" font-weight="bold" font-style="normal" font-size="84.14" textLength="2561.0" lengthAdjust="spacingAndGlyphs" fill="#000" stroke="#000" stroke-width="2.6" stroke-linejoin="round">Human resource budget vs actual KPI dashboard</text>
<text x="385.0" y="464.1" font-family="Liberation Sans, sans-serif" font-weight="bold" font-style="normal" font-size="45.51" textLength="202.5" lengthAdjust="spacingAndGlyphs" fill="#fff" >Amount</text>
<text x="402.5" y="545.1" font-family="Liberation Sans, sans-serif" font-weight="bold" font-style="normal" font-size="62.47" textLength="170.8" lengthAdjust="spacingAndGlyphs" fill="#fff" >3799</text>
<text x="902.2" y="456.7" font-family="Liberation Sans, sans-serif" font-weight="bold" font-style="normal" font-size="48.36" textLength="159.7" lengthAdjust="spacingAndGlyphs" fill="#fff" >Actual</text>
<text x="920.2" y="545.4" font-family="Liberation Sans, sans-serif" font-weight="bold" font-style="normal" font-size="62.19" textLength="126.7" lengthAdjust="spacingAndGlyphs" fill="#fff" >337</text>
<text x="1364.0" y="460.9" font-family="Liberation Sans, sans-serif" font-weight="bold" font-style="normal" font-size="46.65" textLength="196.6" lengthAdjust="spacingAndGlyphs" fill="#fff" >Payable</text>
<text x="1401.6" y="543.2" font-family="Liberation Sans, sans-serif" font-weight="bold" font-style="normal" font-size="63.58" textLength="126.8" lengthAdjust="spacingAndGlyphs" fill="#fff" >366</text>
<text x="1900.7" y="459.2" font-family="Liberation Sans, sans-serif" font-weight="bold" font-style="normal" font-size="48.36" textLength="128.4" lengthAdjust="spacingAndGlyphs" fill="#fff" >Total</text>
<text x="1897.4" y="551.0" font-family="Liberation Sans, sans-serif" font-weight="bold" font-style="normal" font-size="61.22" textLength="167.3" lengthAdjust="spacingAndGlyphs" fill="#fff" >3799</text>
<text x="2336.3" y="476.6" font-family="Liberation Sans, sans-serif" font-weight="bold" font-style="normal" font-size="46.22" textLength="269.7" lengthAdjust="spacingAndGlyphs" fill="#fff" >Remaining</text>
<text x="2410.4" y="555.1" font-family="Liberation Sans, sans-serif" font-weight="bold" font-style="normal" font-size="63.30" textLength="123.5" lengthAdjust="spacingAndGlyphs" fill="#fff" >284</text>
<text x="477.6" y="747.9" font-family="Liberation Sans, sans-serif" font-weight="bold" font-style="normal" font-size="64.00" textLength="623.0" lengthAdjust="spacingAndGlyphs" fill="#fff" >Expenses by Head</text>
<text x="1368.1" y="832.0" font-family="Liberation Sans, sans-serif" font-weight="normal" font-style="normal" font-size="27.13" textLength="54.1" lengthAdjust="spacingAndGlyphs" fill="#404040" stroke="#404040" stroke-width="0.6">624</text>
<text x="371.0" y="827.8" font-family="Liberation Sans, sans-serif" font-weight="normal" font-style="normal" font-size="20.62" textLength="65.0" lengthAdjust="spacingAndGlyphs" fill="#595959" >Other</text>
<text x="1185.3" y="902.9" font-family="Liberation Sans, sans-serif" font-weight="normal" font-style="normal" font-size="27.13" textLength="53.1" lengthAdjust="spacingAndGlyphs" fill="#404040" stroke="#404040" stroke-width="0.6">495</text>
<text x="279.1" y="899.9" font-family="Liberation Sans, sans-serif" font-weight="normal" font-style="normal" font-size="20.05" textLength="156.6" lengthAdjust="spacingAndGlyphs" fill="#595959" >Consulting fee</text>
<text x="1324.2" y="974.5" font-family="Liberation Sans, sans-serif" font-weight="normal" font-style="normal" font-size="27.27" textLength="53.9" lengthAdjust="spacingAndGlyphs" fill="#404040" stroke="#404040" stroke-width="0.6">593</text>
<text x="323.6" y="971.7" font-family="Liberation Sans, sans-serif" font-weight="normal" font-style="normal" font-size="19.20" textLength="113.7" lengthAdjust="spacingAndGlyphs" fill="#595959" >Incentives</text>
<text x="1171.9" y="1046.8" font-family="Liberation Sans, sans-serif" font-weight="normal" font-style="normal" font-size="27.27" textLength="54.2" lengthAdjust="spacingAndGlyphs" fill="#404040" stroke="#404040" stroke-width="0.6">486</text>
<text x="291.2" y="1042.8" font-family="Liberation Sans, sans-serif" font-weight="normal" font-style="normal" font-size="21.05" textLength="145.5" lengthAdjust="spacingAndGlyphs" fill="#595959" >Recurements</text>
<text x="899.2" y="1118.8" font-family="Liberation Sans, sans-serif" font-weight="normal" font-style="normal" font-size="26.43" textLength="54.7" lengthAdjust="spacingAndGlyphs" fill="#404040" stroke="#404040" stroke-width="0.6">295</text>
<text x="346.6" y="1114.5" font-family="Liberation Sans, sans-serif" font-weight="normal" font-style="normal" font-size="20.05" textLength="90.7" lengthAdjust="spacingAndGlyphs" fill="#595959" >Training</text>
<text x="1154.9" y="1191.6" font-family="Liberation Sans, sans-serif" font-weight="normal" font-style="normal" font-size="27.88" textLength="54.0" lengthAdjust="spacingAndGlyphs" fill="#404040" stroke="#404040" stroke-width="0.6">474</text>
<text x="329.5" y="1187.2" font-family="Liberation Sans, sans-serif" font-weight="normal" font-style="normal" font-size="20.62" textLength="107.8" lengthAdjust="spacingAndGlyphs" fill="#595959" >Travelling</text>
<text x="1936.7" y="750.5" font-family="Liberation Sans, sans-serif" font-weight="bold" font-style="normal" font-size="62.29" textLength="620.8" lengthAdjust="spacingAndGlyphs" fill="#fff" >% Budget Achived</text>
<text x="2082.5" y="956.8" font-family="Liberation Sans, sans-serif" font-weight="normal" font-style="normal" font-size="26.57" textLength="60.2" lengthAdjust="spacingAndGlyphs" fill="#404040" >41%</text>
<text x="2391.8" y="1036.8" font-family="Liberation Sans, sans-serif" font-weight="normal" font-style="normal" font-size="26.99" textLength="60.3" lengthAdjust="spacingAndGlyphs" fill="#404040" >59%</text>
<text x="2210.8" y="1216.2" font-family="Liberation Sans, sans-serif" font-weight="normal" font-style="normal" font-size="27.31" textLength="104.6" lengthAdjust="spacingAndGlyphs" fill="#404040" >Budget</text>
<text x="1012.1" y="1343.8" font-family="Liberation Sans, sans-serif" font-weight="bold" font-style="normal" font-size="62.72" textLength="920.6" lengthAdjust="spacingAndGlyphs" fill="#fff" >Monthly variation analysis</text>
<text x="1390.3" y="1822.0" font-family="Liberation Sans, sans-serif" font-weight="normal" font-style="normal" font-size="19.34" textLength="79.6" lengthAdjust="spacingAndGlyphs" fill="#595959" >Budget</text>
<text x="1512.3" y="1822.0" font-family="Liberation Sans, sans-serif" font-weight="normal" font-style="normal" font-size="19.77" textLength="71.3" lengthAdjust="spacingAndGlyphs" fill="#595959" >Actual</text>
</g>
<g>
<rect x="2824" y="39" width="140.3" height="118" fill="#0a1a21"/>
<rect x="2824" y="157" width="140.3" height="67.6" fill="#2b3c44"/>
<rect x="2823.5" y="38.5" width="141.3" height="186.6" fill="none" stroke="#e6eaea" stroke-width="1"/>
<path d="M2846,60.4 L2897,50.4 L2897,145.9 L2846,134.9 Z" fill="url(#door)"/>
<rect x="2903" y="61.6" width="35" height="72.7" fill="url(#sheet)"/>
<g fill="#0a1a21"><rect x="2903" y="74.4" width="23" height="5.3"/><rect x="2903" y="88.4" width="23" height="5.3"/><rect x="2903" y="102.5" width="23" height="5.2"/><rect x="2903" y="116.5" width="23" height="5.2"/></g>
</g>
<g transform="translate(0,0)">
<clipPath id="cl10"><path d="M160.6,1959.1 C164.4,1958.2 169.8,1967.9 174.7,1973.3 C179.6,1978.7 185.4,1984.3 190.1,1991.2 C194.8,1998.1 201.3,2008.0 203.0,2014.4 C204.7,2020.8 202.6,2020.8 200.4,2029.8 C198.2,2038.8 193.9,2053.3 190.1,2068.3 C186.2,2083.3 180.7,2100.4 177.3,2119.7 C173.9,2139.0 175.2,2173.3 169.6,2184.0 C164.0,2194.7 148.6,2199.0 143.9,2184.0 C139.2,2169.0 142.0,2117.6 141.3,2094.0 C140.7,2070.4 139.8,2057.6 140.0,2042.6 C140.2,2027.6 140.7,2014.8 142.6,2004.1 C144.5,1993.4 148.6,1985.9 151.6,1978.4 C154.6,1970.9 156.8,1959.9 160.6,1959.1 Z"/></clipPath>
<path d="M160.6,1959.1 C164.4,1958.2 169.8,1967.9 174.7,1973.3 C179.6,1978.7 185.4,1984.3 190.1,1991.2 C194.8,1998.1 201.3,2008.0 203.0,2014.4 C204.7,2020.8 202.6,2020.8 200.4,2029.8 C198.2,2038.8 193.9,2053.3 190.1,2068.3 C186.2,2083.3 180.7,2100.4 177.3,2119.7 C173.9,2139.0 175.2,2173.3 169.6,2184.0 C164.0,2194.7 148.6,2199.0 143.9,2184.0 C139.2,2169.0 142.0,2117.6 141.3,2094.0 C140.7,2070.4 139.8,2057.6 140.0,2042.6 C140.2,2027.6 140.7,2014.8 142.6,2004.1 C144.5,1993.4 148.6,1985.9 151.6,1978.4 C154.6,1970.9 156.8,1959.9 160.6,1959.1 Z" fill="url(#mot)" stroke="#d6dd3a" stroke-width="8" clip-path="url(#cl10)"/>
<clipPath id="cl11"><path d="M74.5,1991.2 C69.6,1993.2 70.7,2008.4 70.7,2017.0 C70.7,2025.6 72.2,2034.0 74.5,2042.6 C76.8,2051.2 80.1,2061.0 84.8,2068.3 C89.5,2075.6 98.1,2081.2 102.8,2086.3 C107.5,2091.5 110.0,2093.6 113.0,2099.2 C116.0,2104.8 118.2,2112.0 120.8,2119.7 C123.4,2127.4 125.9,2135.1 128.5,2145.4 C131.1,2155.7 134.3,2175.0 136.2,2181.4 C138.1,2187.8 138.4,2183.6 140.0,2184.0 C141.6,2184.4 146.0,2198.0 146.0,2184.0 C146.0,2170.0 143.5,2124.0 140.0,2100.0 C136.5,2076.0 131.7,2055.8 125.0,2040.0 C118.3,2024.2 108.4,2013.1 100.0,2005.0 C91.6,1996.9 79.4,1989.2 74.5,1991.2 Z"/></clipPath>
<path d="M74.5,1991.2 C69.6,1993.2 70.7,2008.4 70.7,2017.0 C70.7,2025.6 72.2,2034.0 74.5,2042.6 C76.8,2051.2 80.1,2061.0 84.8,2068.3 C89.5,2075.6 98.1,2081.2 102.8,2086.3 C107.5,2091.5 110.0,2093.6 113.0,2099.2 C116.0,2104.8 118.2,2112.0 120.8,2119.7 C123.4,2127.4 125.9,2135.1 128.5,2145.4 C131.1,2155.7 134.3,2175.0 136.2,2181.4 C138.1,2187.8 138.4,2183.6 140.0,2184.0 C141.6,2184.4 146.0,2198.0 146.0,2184.0 C146.0,2170.0 143.5,2124.0 140.0,2100.0 C136.5,2076.0 131.7,2055.8 125.0,2040.0 C118.3,2024.2 108.4,2013.1 100.0,2005.0 C91.6,1996.9 79.4,1989.2 74.5,1991.2 Z" fill="url(#mot)" stroke="#d9df3c" stroke-width="9" clip-path="url(#cl11)"/>
<clipPath id="cl12"><path d="M237.7,2013.1 C237.9,2014.4 236.6,2025.3 235.1,2032.4 C233.6,2039.5 231.5,2047.0 228.7,2055.5 C225.9,2064.1 221.8,2075.6 218.4,2083.7 C215.0,2091.8 210.2,2101.3 208.1,2104.3 C205.9,2107.3 204.2,2106.0 205.5,2101.7 C206.8,2097.4 212.4,2087.6 215.8,2078.6 C219.2,2069.6 223.1,2056.8 226.1,2047.8 C229.1,2038.8 231.9,2030.4 233.8,2024.6 C235.7,2018.8 237.5,2011.8 237.7,2013.1 Z"/></clipPath>
<path d="M237.7,2013.1 C237.9,2014.4 236.6,2025.3 235.1,2032.4 C233.6,2039.5 231.5,2047.0 228.7,2055.5 C225.9,2064.1 221.8,2075.6 218.4,2083.7 C215.0,2091.8 210.2,2101.3 208.1,2104.3 C205.9,2107.3 204.2,2106.0 205.5,2101.7 C206.8,2097.4 212.4,2087.6 215.8,2078.6 C219.2,2069.6 223.1,2056.8 226.1,2047.8 C229.1,2038.8 231.9,2030.4 233.8,2024.6 C235.7,2018.8 237.5,2011.8 237.7,2013.1 Z" fill="url(#mot2)" stroke="#cfd84a" stroke-width="4" clip-path="url(#cl12)"/>
<clipPath id="cl13"><path d="M228.7,1981.0 C230.2,1982.3 230.0,1996.0 230.0,2004.1 C230.0,2012.2 229.8,2021.2 228.7,2029.8 C227.6,2038.4 225.7,2046.9 223.5,2055.5 C221.3,2064.1 218.8,2072.6 215.8,2081.2 C212.8,2089.8 208.9,2098.3 205.5,2106.9 C202.1,2115.5 198.7,2124.0 195.3,2132.6 C191.9,2141.2 188.0,2149.7 185.0,2158.3 C182.0,2166.9 180.7,2179.7 177.3,2184.0 C173.9,2188.3 166.1,2192.6 164.4,2184.0 C162.7,2175.4 165.3,2147.6 167.0,2132.6 C168.7,2117.6 171.3,2106.8 174.7,2094.0 C178.1,2081.2 182.5,2067.5 187.6,2055.5 C192.7,2043.5 199.9,2031.9 205.5,2022.1 C211.1,2012.2 217.1,2003.2 221.0,1996.4 C224.9,1989.6 227.2,1979.7 228.7,1981.0 Z"/></clipPath>
<path d="M228.7,1981.0 C230.2,1982.3 230.0,1996.0 230.0,2004.1 C230.0,2012.2 229.8,2021.2 228.7,2029.8 C227.6,2038.4 225.7,2046.9 223.5,2055.5 C221.3,2064.1 218.8,2072.6 215.8,2081.2 C212.8,2089.8 208.9,2098.3 205.5,2106.9 C202.1,2115.5 198.7,2124.0 195.3,2132.6 C191.9,2141.2 188.0,2149.7 185.0,2158.3 C182.0,2166.9 180.7,2179.7 177.3,2184.0 C173.9,2188.3 166.1,2192.6 164.4,2184.0 C162.7,2175.4 165.3,2147.6 167.0,2132.6 C168.7,2117.6 171.3,2106.8 174.7,2094.0 C178.1,2081.2 182.5,2067.5 187.6,2055.5 C192.7,2043.5 199.9,2031.9 205.5,2022.1 C211.1,2012.2 217.1,2003.2 221.0,1996.4 C224.9,1989.6 227.2,1979.7 228.7,1981.0 Z" fill="url(#mot)" stroke="#d6dd3a" stroke-width="9" clip-path="url(#cl13)"/>
<clipPath id="cl14"><path d="M158.0,1842.2 C160.3,1842.2 169.8,1855.1 174.7,1862.8 C179.6,1870.5 184.8,1879.9 187.6,1888.5 C190.4,1897.1 191.0,1905.6 191.4,1914.2 C191.8,1922.8 191.4,1931.4 190.1,1939.9 C188.8,1948.5 185.8,1957.0 183.7,1965.5 C181.6,1974.0 180.1,1982.6 177.3,1991.2 C174.5,1999.8 170.4,2008.4 167.0,2017.0 C163.6,2025.6 159.3,2031.9 156.7,2042.6 C154.1,2053.3 152.7,2066.2 151.6,2081.2 C150.5,2096.2 150.5,2115.5 150.3,2132.6 C150.1,2149.7 150.9,2175.4 150.3,2184.0 C149.7,2192.6 147.2,2192.6 146.5,2184.0 C145.8,2175.4 145.9,2149.7 145.9,2132.6 C145.9,2115.5 145.8,2096.2 146.5,2081.2 C147.2,2066.2 148.2,2053.3 150.3,2042.6 C152.4,2031.9 156.5,2025.6 159.3,2017.0 C162.1,2008.4 164.9,1999.8 167.0,1991.2 C169.1,1982.6 170.8,1974.0 172.1,1965.5 C173.4,1957.0 174.7,1948.5 174.7,1939.9 C174.7,1931.4 173.4,1922.8 172.1,1914.2 C170.8,1905.6 168.9,1897.1 167.0,1888.5 C165.1,1879.9 162.1,1870.5 160.6,1862.8 C159.1,1855.1 155.7,1842.2 158.0,1842.2 Z"/></clipPath>
<path d="M158.0,1842.2 C160.3,1842.2 169.8,1855.1 174.7,1862.8 C179.6,1870.5 184.8,1879.9 187.6,1888.5 C190.4,1897.1 191.0,1905.6 191.4,1914.2 C191.8,1922.8 191.4,1931.4 190.1,1939.9 C188.8,1948.5 185.8,1957.0 183.7,1965.5 C181.6,1974.0 180.1,1982.6 177.3,1991.2 C174.5,1999.8 170.4,2008.4 167.0,2017.0 C163.6,2025.6 159.3,2031.9 156.7,2042.6 C154.1,2053.3 152.7,2066.2 151.6,2081.2 C150.5,2096.2 150.5,2115.5 150.3,2132.6 C150.1,2149.7 150.9,2175.4 150.3,2184.0 C149.7,2192.6 147.2,2192.6 146.5,2184.0 C145.8,2175.4 145.9,2149.7 145.9,2132.6 C145.9,2115.5 145.8,2096.2 146.5,2081.2 C147.2,2066.2 148.2,2053.3 150.3,2042.6 C152.4,2031.9 156.5,2025.6 159.3,2017.0 C162.1,2008.4 164.9,1999.8 167.0,1991.2 C169.1,1982.6 170.8,1974.0 172.1,1965.5 C173.4,1957.0 174.7,1948.5 174.7,1939.9 C174.7,1931.4 173.4,1922.8 172.1,1914.2 C170.8,1905.6 168.9,1897.1 167.0,1888.5 C165.1,1879.9 162.1,1870.5 160.6,1862.8 C159.1,1855.1 155.7,1842.2 158.0,1842.2 Z" fill="url(#mot2)" stroke="#d8de3a" stroke-width="7" clip-path="url(#cl14)"/>
<clipPath id="cl15"><path d="M136.0,2184.0 C132.7,2173.3 131.0,2139.0 128.0,2120.0 C125.0,2101.0 122.7,2085.0 118.0,2070.0 C113.3,2055.0 106.0,2041.7 100.0,2030.0 C94.0,2018.3 86.2,2007.8 82.0,2000.0 C77.8,1992.2 78.3,1989.2 74.5,1983.5 C70.7,1977.8 63.6,1972.8 59.1,1965.5 C54.6,1958.2 50.5,1948.5 47.5,1939.9 C44.5,1931.4 42.6,1922.8 41.1,1914.2 C39.6,1905.6 38.7,1897.1 38.5,1888.5 C38.3,1879.9 38.7,1871.4 39.8,1862.8 C40.9,1854.2 42.4,1845.7 45.0,1837.1 C47.6,1828.5 51.4,1819.3 55.2,1811.4 C59.1,1803.5 64.9,1789.5 68.1,1789.5 C71.3,1789.5 72.6,1803.5 74.5,1811.4 C76.4,1819.3 77.5,1828.5 79.7,1837.1 C81.9,1845.7 84.8,1854.2 87.4,1862.8 C90.0,1871.4 92.1,1879.9 95.1,1888.5 C98.1,1897.1 101.4,1905.6 105.3,1914.2 C109.2,1922.8 114.3,1931.4 118.2,1939.9 C122.1,1948.5 125.5,1957.0 128.5,1965.5 C131.5,1974.0 134.1,1982.6 136.2,1991.2 C138.3,1999.8 140.0,2008.4 141.3,2017.0 C142.6,2025.6 143.0,2029.8 143.9,2042.6 C144.8,2055.4 145.9,2076.9 146.5,2094.0 C147.1,2111.1 147.5,2130.4 147.7,2145.4 C147.9,2160.4 149.6,2177.6 147.7,2184.0 C145.8,2190.4 139.3,2194.7 136.0,2184.0 Z"/></clipPath>
<path d="M136.0,2184.0 C132.7,2173.3 131.0,2139.0 128.0,2120.0 C125.0,2101.0 122.7,2085.0 118.0,2070.0 C113.3,2055.0 106.0,2041.7 100.0,2030.0 C94.0,2018.3 86.2,2007.8 82.0,2000.0 C77.8,1992.2 78.3,1989.2 74.5,1983.5 C70.7,1977.8 63.6,1972.8 59.1,1965.5 C54.6,1958.2 50.5,1948.5 47.5,1939.9 C44.5,1931.4 42.6,1922.8 41.1,1914.2 C39.6,1905.6 38.7,1897.1 38.5,1888.5 C38.3,1879.9 38.7,1871.4 39.8,1862.8 C40.9,1854.2 42.4,1845.7 45.0,1837.1 C47.6,1828.5 51.4,1819.3 55.2,1811.4 C59.1,1803.5 64.9,1789.5 68.1,1789.5 C71.3,1789.5 72.6,1803.5 74.5,1811.4 C76.4,1819.3 77.5,1828.5 79.7,1837.1 C81.9,1845.7 84.8,1854.2 87.4,1862.8 C90.0,1871.4 92.1,1879.9 95.1,1888.5 C98.1,1897.1 101.4,1905.6 105.3,1914.2 C109.2,1922.8 114.3,1931.4 118.2,1939.9 C122.1,1948.5 125.5,1957.0 128.5,1965.5 C131.5,1974.0 134.1,1982.6 136.2,1991.2 C138.3,1999.8 140.0,2008.4 141.3,2017.0 C142.6,2025.6 143.0,2029.8 143.9,2042.6 C144.8,2055.4 145.9,2076.9 146.5,2094.0 C147.1,2111.1 147.5,2130.4 147.7,2145.4 C147.9,2160.4 149.6,2177.6 147.7,2184.0 C145.8,2190.4 139.3,2194.7 136.0,2184.0 Z" fill="url(#motA)" stroke="#dade3c" stroke-width="11" clip-path="url(#cl15)"/>
<path d="M91.2,2185.1 C93,2240 98,2300 107.7,2344.8 Q150,2356 196.4,2346.8 C204,2300 210,2240 212.9,2186 Q152,2181 91.2,2185.1 Z" fill="url(#potp)"/>
<path d="M91.2,2185.1 C93,2240 98,2300 107.7,2344.8 Q150,2356 196.4,2346.8 C204,2300 210,2240 212.9,2186 Q152,2181 91.2,2185.1 Z" fill="url(#pot)" opacity="0.55"/>
<path d="M92,2186 Q152,2180 212,2186.5" fill="none" stroke="#c9c3b5" stroke-width="2"/>
</g>
<text x="2857.0" y="113.8" font-family="Liberation Sans, sans-serif" font-weight="bold" font-style="normal" font-size="44.80" textLength="27.8" lengthAdjust="spacingAndGlyphs" fill="#ffffff" >X</text>
<text x="2838.9" y="203.2" font-family="Liberation Sans, sans-serif" font-weight="bold" font-style="normal" font-size="34.99" textLength="112.7" lengthAdjust="spacingAndGlyphs" fill="#1fb4ee" >EXCEL</text>
<text x="665.5" y="2179.0" font-family="Liberation Serif, serif" font-weight="bold" font-style="italic" font-size="157.41" textLength="1933.3" lengthAdjust="spacing" fill="#ffffff" stroke="#fff" stroke-width="4" stroke-linejoin="round">Human resource budget vs</text>
<text x="660.8" y="2329.0" font-family="Liberation Serif, serif" font-weight="bold" font-style="italic" font-size="157.41" textLength="1682.4" lengthAdjust="spacing" fill="#ffffff" stroke="#fff" stroke-width="4" stroke-linejoin="round">actual KPI dashboard</text>
</svg></body></html>
